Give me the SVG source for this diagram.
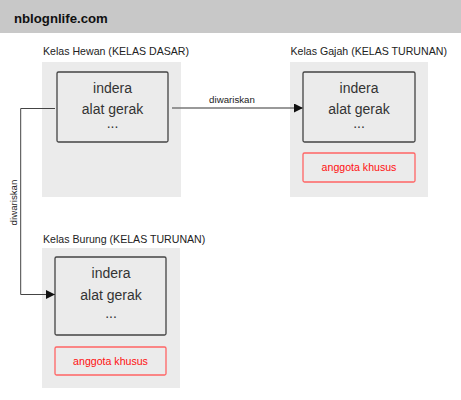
<svg xmlns="http://www.w3.org/2000/svg" width="461" height="400" viewBox="0 0 461 400">
<style>
text{font-family:"Liberation Sans",Arial,Helvetica,sans-serif}
.bg{fill:#ebebeb}
.inner{fill:#ebebeb;stroke:#444;stroke-width:1.3}
.red{fill:#ebebeb;stroke:#ff6464;stroke-width:1.3}
.title{font-size:10.6px;fill:#222}
.body{font-size:14px;fill:#333;text-anchor:middle}
.rt{font-size:10.6px;fill:#ff1010;text-anchor:middle}
.lbl{font-size:9.7px;fill:#222;text-anchor:middle}
</style>
<defs>
<marker id="ah" viewBox="0 0 10 10" refX="10" refY="5" markerWidth="9" markerHeight="9" markerUnits="userSpaceOnUse" orient="auto">
<path d="M0,0 L10,5 L0,10 z" fill="#111"/>
</marker>
</defs>
<rect x="0" y="0" width="461" height="400" fill="#fff"/>
<g id="header">
<rect x="0" y="0" width="461" height="33" fill="#c8c8c8"/>
<text x="14" y="22.5" style="font-size:13.2px;font-weight:bold;fill:#111">nblognlife.com</text>
</g>
<g id="hewan">
<text class="title" x="43" y="55">Kelas Hewan (KELAS DASAR)</text>
<rect class="bg" x="42" y="62" width="139" height="135"/>
<rect class="inner" x="57" y="72" width="111" height="70" rx="1.5"/>
<text class="body" x="112.5" y="92.5">indera</text>
<text class="body" x="112.5" y="114">alat gerak</text>
<text class="body" x="112.5" y="128">...</text>
</g>
<g id="gajah">
<text class="title" x="290.5" y="55">Kelas Gajah (KELAS TURUNAN)</text>
<rect class="bg" x="290" y="62" width="138" height="135"/>
<rect class="inner" x="303" y="72" width="112" height="70" rx="1.5"/>
<text class="body" x="359" y="92.5">indera</text>
<text class="body" x="359" y="114">alat gerak</text>
<text class="body" x="359" y="128">...</text>
<rect class="red" x="303" y="153" width="112" height="29" rx="1.5"/>
<text class="rt" x="359" y="171">anggota khusus</text>
</g>
<g id="burung">
<text class="title" x="43" y="242.5">Kelas Burung (KELAS TURUNAN)</text>
<rect class="bg" x="42" y="248" width="138" height="140"/>
<rect class="inner" x="55" y="257" width="111" height="78" rx="1.5"/>
<text class="body" x="111" y="278">indera</text>
<text class="body" x="111" y="299.5">alat gerak</text>
<text class="body" x="111" y="317.5">...</text>
<rect class="red" x="55" y="347" width="111" height="28" rx="1.5"/>
<text class="rt" x="110.5" y="364.5">anggota khusus</text>
</g>
<g id="connectors">
<line x1="172" y1="108" x2="303" y2="108" stroke="#777" stroke-width="1.5" marker-end="url(#ah)"/>
<text class="lbl" x="232" y="102.7">diwariskan</text>
<polyline points="55,108.5 20.7,108.5 20.7,294.5 55,294.5" fill="none" stroke="#444" stroke-width="1" marker-end="url(#ah)"/>
<text class="lbl" transform="translate(16.5,202.5) rotate(-90)" x="0" y="0">diwariskan</text>
</g>
</svg>
